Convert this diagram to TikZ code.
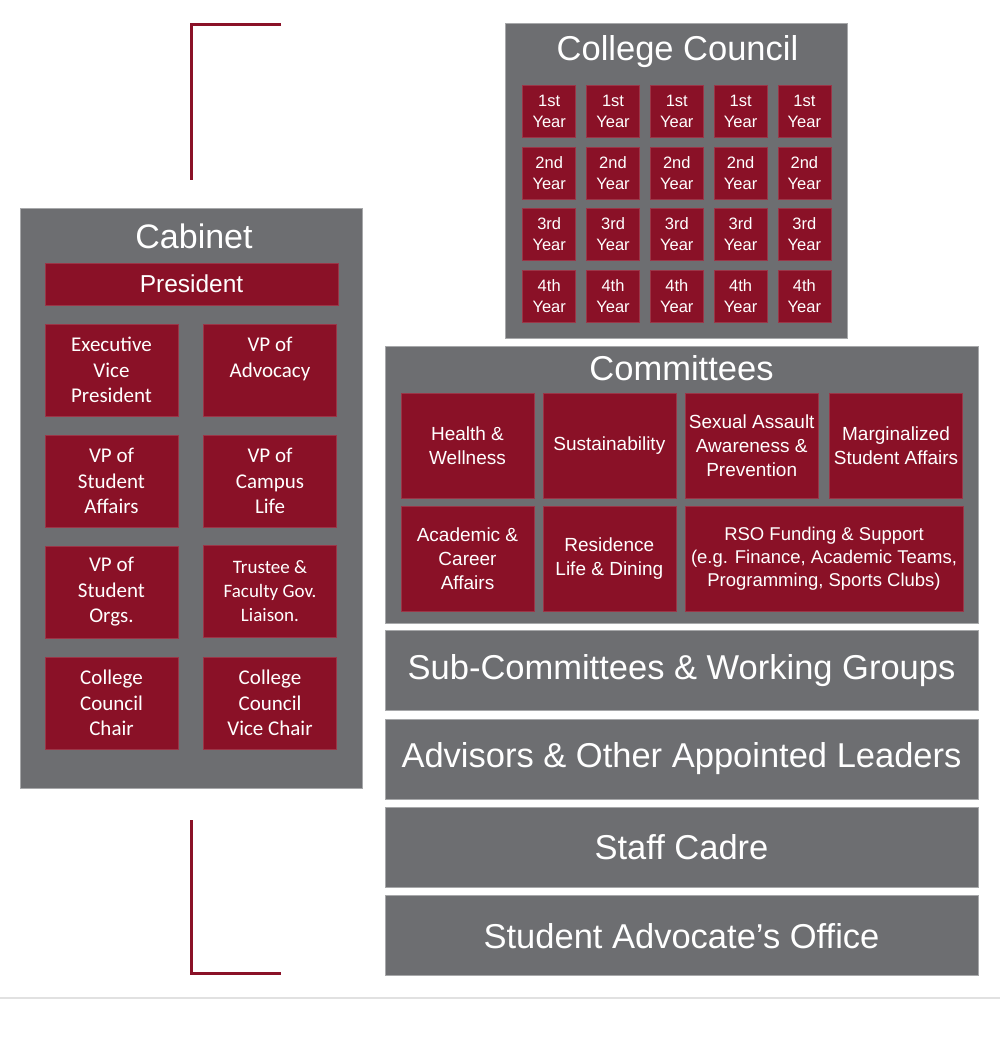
\documentclass[tikz,border=0pt]{standalone}
\usepackage{fontspec}
\setmainfont{Liberation Sans}
\newfontfamily\calibri{Carlito}
\usetikzlibrary{positioning}
\definecolor{maroon}{RGB}{138,17,39}
\definecolor{slate}{RGB}{109,110,113}
\definecolor{rule}{RGB}{225,225,225}

\begin{document}
\begin{tikzpicture}[%
    x=1pt, y=-1pt,
    panel/.style={fill=slate, draw=slate!60!white, line width=0.8pt, inner sep=0pt},
    title/.style={text=white, font=\fontsize{34.5}{38}\selectfont},
    cell/.style={fill=maroon, draw=maroon!85!white, line width=0.5pt, text=white,
                 align=center, inner sep=0pt, minimum width=133pt, minimum height=92pt},
    cabcell/.style={cell, font=\calibri\fontsize{21}{25.5}\selectfont},
    yearcell/.style={cell, minimum width=53pt, minimum height=52pt,
                     font=\fontsize{16.5}{21}\selectfont},
    comcell/.style={cell, minimum height=105pt, font=\fontsize{19}{24}\selectfont},
    bar/.style={panel, text=white, minimum width=593pt, minimum height=80pt,
                font=\fontsize{34.5}{40}\selectfont},
    bracket/.style={draw=maroon, line width=3pt}]
    \useasboundingbox (0,0) rectangle (1000,1038);

    % cabinet
    \node[panel, minimum width=342pt, minimum height=580pt] (cabinet) at (191,498) {};
    \node[title, font=\fontsize{34}{38}\selectfont] (cabinet_title) at (194,236) {Cabinet};
    \node[cell, minimum width=293pt, minimum height=42pt,
          font=\fontsize{24.5}{27}\selectfont] (president) at (191.5,284) {President};
    \node[cabcell] (evp) at (111.5,370) {Executive\\Vice\\President};
    \node[cabcell] (vp_advocacy) at (270,370) {VP of\\Advocacy\\~};
    \node[cabcell] (vp_affairs) at (111.5,481) {VP of\\Student\\Affairs};
    \node[cabcell] (vp_campus) at (270,481) {VP of\\Campus\\Life};
    \node[cabcell] (vp_orgs) at (111.5,592) {VP of\\Student\\Orgs.};
    \node[cabcell, font=\calibri\fontsize{19}{24}\selectfont] (liaison) at (270,591)
        {Trustee \&\\Faculty Gov.\\Liaison.};
    \node[cabcell] (cc_chair) at (111.5,703) {College\\Council\\Chair};
    \node[cabcell] (cc_vice) at (270,703) {College\\Council\\Vice Chair};

    % college council
    \node[panel, minimum width=342pt, minimum height=315pt] (council) at (676,180.5) {};
    \node[title] (council_title) at (677.5,52) {College Council};
    \foreach \yr/\row in {1st/1, 2nd/2, 3rd/3, 4th/4}
      \foreach \col in {1,...,5}
        \node[yearcell] (year_\row_\col) at ({549.2+63.8*(\col-1)},{111.3+61.6*(\row-1)})
            {\yr\\Year};

    % committees
    \node[panel, minimum width=593pt, minimum height=277pt] (committees) at (681.5,484.5) {};
    \node[title] (committees_title) at (681.5,368) {Committees};
    \node[comcell] (health) at (467.5,445.5) {Health \&\\Wellness};
    \node[comcell] (sustain) at (609.3,445.5) {Sustainability};
    \node[comcell] (assault) at (751.7,445.5) {Sexual Assault\\Awareness \&\\Prevention};
    \node[comcell] (marginal) at (896,445.5) {Marginalized\\Student Affairs};
    \node[comcell] (academic) at (467.5,558.5) {Academic \&\\Career\\Affairs};
    \node[comcell] (residence) at (609.3,558.5) {Residence\\Life \& Dining};
    \node[comcell, minimum width=278pt, font=\fontsize{18.5}{23}\selectfont] (rso) at (824,558.5)
        {RSO Funding \& Support\\(e.g. Finance, Academic Teams,\\Programming, Sports Clubs)};

    % lower bars
    \node[bar] (subcom) at (681.5,670.5) {Sub-Committees \& Working Groups};
    \node[bar] (advisors) [below=7.6pt of subcom] {Advisors \& Other Appointed Leaders};
    \node[bar] (staff) [below=7.6pt of advisors] {Staff Cadre};
    \node[bar] (advocate) [below=7.6pt of staff] {Student Advocate’s Office};

    % brackets
    \coordinate (top_end) at (281,25);
    \coordinate (top_corner) at (191,25);
    \coordinate (top_foot) at (191,180);
    \coordinate (bot_head) at (191,820);
    \coordinate (bot_corner) at (191,973);
    \coordinate (bot_end) at (281,973);
    \draw[bracket] (top_end) -- (top_corner) -- (top_foot);
    \draw[bracket] (bot_head) -- (bot_corner) -- (bot_end);

    \coordinate (rule_l) at (0,998);
    \coordinate (rule_r) at (1000,998);
    \draw[rule, line width=1.5pt] (rule_l) -- (rule_r);
\end{tikzpicture}
\end{document}
